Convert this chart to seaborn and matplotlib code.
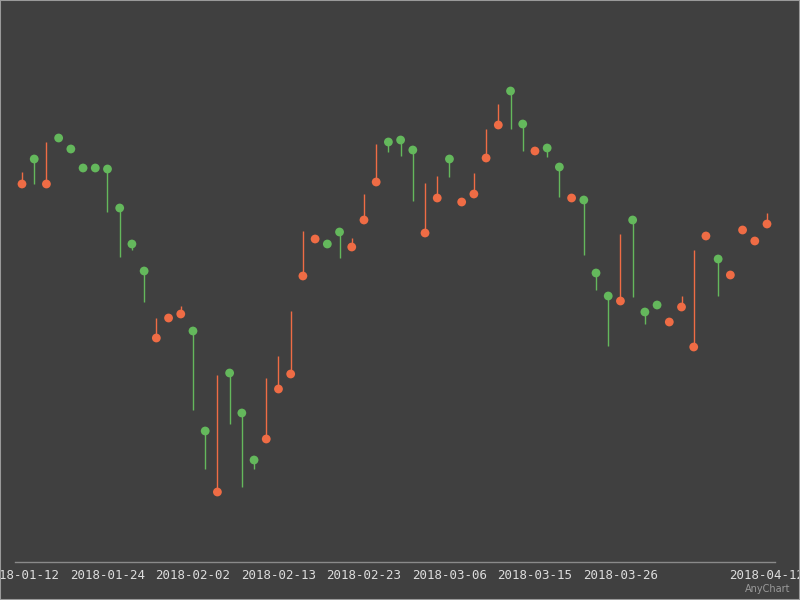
import matplotlib
matplotlib.use("Agg")
import matplotlib.pyplot as plt
import seaborn as sns
import pandas as pd

close = [184,159,184,138,149,168,168,169,208,244,271,338,318,314,331,431,492,373,413,460,
         439,389,374,276,239,244,232,247,220,182,142,140,150,233,198,159,202,194,158,125,
         91,124,151,148,167,198,200,273,296,301,220,312,305,322,307,347,236,259,275,230,241,224]
openv = [172,184,142,138,149,168,168,212,257,250,302,318,318,306,410,469,375,424,487,469,
         378,356,311,231,239,244,258,238,194,144,152,156,201,183,176,177,202,173,129,104,
         129,151,151,157,197,198,255,290,346,234,297,324,305,322,296,250,236,296,275,230,241,213]
direction = list("dudu" "uuuuuuuddduuudu" "uudddddduudddu" "uuuddudddduuduu" "dudu" "uudu" "uudd" "dudddd")
# convert screen-read values into upward values
close = [600 - v for v in close]
openv = [600 - v for v in openv]
tick_idx = [0, 7, 14, 21, 28, 35, 42, 49, 61]
tick_labels = ["2018-01-12", "2018-01-24", "2018-02-02", "2018-02-13", "2018-02-23",
               "2018-03-06", "2018-03-15", "2018-03-26", "2018-04-12"]

GREEN = "#64b85c"
RED = "#ef6c45"
BG = "#404040"

df = pd.DataFrame({"i": range(len(close)), "close": close, "open": openv})
flat_red = {12, 24, 36, 42, 45, 53, 56, 58, 59, 60}
df["dir"] = ["up" if (c > o or (c == o and i not in flat_red)) else "down"
             for i, c, o in zip(df.i, df.close, df.open)]

sns.set_style("dark")
fig = plt.figure(figsize=(8, 6), dpi=100, facecolor=BG)
ax = fig.add_axes([15/800, 38/600, 760/800, 562/600])
ax.set_facecolor(BG)

for d, col in (("up", GREEN), ("down", RED)):
    sub = df[df.dir == d]
    ax.vlines(sub.i, sub.open, sub.close, color=col, lw=1)
sns.scatterplot(data=df, x="i", y="close", hue="dir", palette={"up": GREEN, "down": RED},
                s=40, edgecolor="none", legend=False, ax=ax, zorder=3)

ax.set_xlim(-0.573, 61.655)
ax.set_ylim(38, 600)
ax.set_xticks(tick_idx)
ax.set_xticklabels(tick_labels, family="DejaVu Sans Mono", fontsize=9, color="#dddddd")
ax.tick_params(axis="x", length=0, pad=5)
ax.set_yticks([])
ax.set_xlabel("")
ax.set_ylabel("")
ax.grid(False)
for s in ("top", "left", "right"):
    ax.spines[s].set_visible(False)
ax.spines["bottom"].set_color("#8a8a8a")
ax.spines["bottom"].set_linewidth(1)

fig.patches.append(plt.Rectangle((0, 0), 1, 1, transform=fig.transFigure, fill=False,
                                 edgecolor="#9a9a9a", lw=1.5))
fig.text(790/800, 1 - 589/600, "AnyChart", ha="right", va="center", fontsize=7, color="#9a9a9a")

fig.savefig("out.png", dpi=100, facecolor=BG)
